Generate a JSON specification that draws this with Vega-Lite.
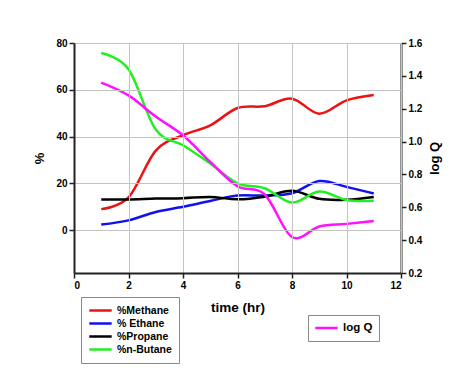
{
  "$schema": "https://vega.github.io/schema/vega-lite/v6.json",
  "width": 327,
  "height": 230,
  "autosize": {"type": "none"},
  "padding": {"left": 74, "top": 43, "right": 73, "bottom": 117},
  "background": "white",
  "config": {
    "font": "Liberation Sans",
    "view": {"stroke": "#777", "strokeWidth": 1},
    "axis": {
      "labelFont": "Liberation Sans",
      "labelFontWeight": "bold",
      "labelFontSize": 10,
      "labelColor": "#000",
      "titleFont": "Liberation Sans",
      "titleFontWeight": "bold",
      "titleColor": "#000",
      "domainColor": "#222",
      "domainWidth": 2,
      "tickColor": "#222",
      "tickWidth": 1.5,
      "tickSize": 5,
      "grid": true,
      "gridColor": "#c4c4c4",
      "gridWidth": 1,
      "gridOpacity": 1
    },
    "legend": {
      "labelFont": "Liberation Sans",
      "labelFontWeight": "bold",
      "labelFontSize": 10.5,
      "labelColor": "#000",
      "symbolType": "stroke",
      "symbolStrokeWidth": 2.5,
      "symbolSize": 500,
      "strokeColor": "#888",
      "padding": 7,
      "rowPadding": 0,
      "clipHeight": 13,
      "orient": "none"
    }
  },
  "datasets": {
    "gas": [
      {"t": 1, "series": "%Methane", "value": 9.0},
      {"t": 2, "series": "%Methane", "value": 14.0},
      {"t": 3, "series": "%Methane", "value": 34.0},
      {"t": 4, "series": "%Methane", "value": 40.6},
      {"t": 5, "series": "%Methane", "value": 44.8},
      {"t": 6, "series": "%Methane", "value": 52.2},
      {"t": 7, "series": "%Methane", "value": 53.0},
      {"t": 8, "series": "%Methane", "value": 56.2},
      {"t": 9, "series": "%Methane", "value": 49.8},
      {"t": 10, "series": "%Methane", "value": 55.5},
      {"t": 11, "series": "%Methane", "value": 57.8},
      {"t": 1, "series": "% Ethane", "value": 2.4},
      {"t": 2, "series": "% Ethane", "value": 4.2},
      {"t": 3, "series": "% Ethane", "value": 7.8},
      {"t": 4, "series": "% Ethane", "value": 10.0},
      {"t": 5, "series": "% Ethane", "value": 12.5},
      {"t": 6, "series": "% Ethane", "value": 14.8},
      {"t": 7, "series": "% Ethane", "value": 14.8},
      {"t": 8, "series": "% Ethane", "value": 15.8},
      {"t": 9, "series": "% Ethane", "value": 21.0},
      {"t": 10, "series": "% Ethane", "value": 18.5},
      {"t": 11, "series": "% Ethane", "value": 15.7},
      {"t": 1, "series": "%Propane", "value": 13.1},
      {"t": 2, "series": "%Propane", "value": 13.1},
      {"t": 3, "series": "%Propane", "value": 13.5},
      {"t": 4, "series": "%Propane", "value": 13.7},
      {"t": 5, "series": "%Propane", "value": 14.2},
      {"t": 6, "series": "%Propane", "value": 13.2},
      {"t": 7, "series": "%Propane", "value": 14.3},
      {"t": 8, "series": "%Propane", "value": 16.8},
      {"t": 9, "series": "%Propane", "value": 13.4},
      {"t": 10, "series": "%Propane", "value": 13.0},
      {"t": 11, "series": "%Propane", "value": 14.2},
      {"t": 1, "series": "%n-Butane", "value": 75.7},
      {"t": 2, "series": "%n-Butane", "value": 68.8},
      {"t": 3, "series": "%n-Butane", "value": 43.0},
      {"t": 4, "series": "%n-Butane", "value": 36.3},
      {"t": 5, "series": "%n-Butane", "value": 28.5},
      {"t": 6, "series": "%n-Butane", "value": 20.0},
      {"t": 7, "series": "%n-Butane", "value": 17.9},
      {"t": 8, "series": "%n-Butane", "value": 11.8},
      {"t": 9, "series": "%n-Butane", "value": 16.5},
      {"t": 10, "series": "%n-Butane", "value": 12.9},
      {"t": 11, "series": "%n-Butane", "value": 12.6}
    ],
    "flow": [
      {"t": 1, "series": "log Q", "logq": 1.359},
      {"t": 2, "series": "log Q", "logq": 1.281},
      {"t": 3, "series": "log Q", "logq": 1.152},
      {"t": 4, "series": "log Q", "logq": 1.038},
      {"t": 5, "series": "log Q", "logq": 0.876},
      {"t": 6, "series": "log Q", "logq": 0.728},
      {"t": 7, "series": "log Q", "logq": 0.678},
      {"t": 8, "series": "log Q", "logq": 0.419},
      {"t": 9, "series": "log Q", "logq": 0.483},
      {"t": 10, "series": "log Q", "logq": 0.499},
      {"t": 11, "series": "log Q", "logq": 0.517}
    ]
  },
  "layer": [
    {
      "data": {"name": "gas"},
      "mark": {"type": "line", "interpolate": "cardinal", "tension": 0, "strokeWidth": 2.5},
      "encoding": {
        "x": {
          "field": "t", "type": "quantitative",
          "scale": {"domain": [0, 12], "nice": false},
          "axis": {"title": "time (hr)", "titleFontSize": 13.5, "titlePadding": 10, "values": [0, 2, 4, 6, 8, 10, 12], "zindex": 1}
        },
        "y": {
          "field": "value", "type": "quantitative",
          "scale": {"domain": [-18.3, 80], "nice": false, "zero": false},
          "axis": {"title": "%", "orient": "left", "titleFontSize": 13, "values": [0, 20, 40, 60, 80], "titlePadding": 9, "zindex": 1}
        },
        "color": {
          "field": "series", "type": "nominal",
          "scale": {"domain": ["%Methane", "% Ethane", "%Propane", "%n-Butane"], "range": ["#ee1111", "#1111ee", "#000000", "#22ee22"]},
          "legend": {"title": null, "legendX": 7, "legendY": 254}
        }
      }
    },
    {
      "data": {"name": "flow"},
      "mark": {"type": "line", "interpolate": "cardinal", "tension": 0, "strokeWidth": 2.5},
      "encoding": {
        "x": {"field": "t", "type": "quantitative"},
        "y": {
          "field": "logq", "type": "quantitative",
          "scale": {"domain": [0.2, 1.6], "nice": false, "zero": false},
          "axis": {"title": "log Q", "orient": "right", "titleFontSize": 13, "titleAngle": 270, "values": [0.2, 0.4, 0.6, 0.8, 1.0, 1.2, 1.4, 1.6], "format": ".1f", "grid": false, "titlePadding": 20}
        },
        "stroke": {
          "field": "series", "type": "nominal",
          "scale": {"domain": ["log Q"], "range": ["#ff11ff"]},
          "legend": {"title": null, "legendX": 234, "legendY": 272, "labelFontSize": 11.5, "padding": 6, "clipHeight": 14}
        }
      }
    }
  ],
  "resolve": {"scale": {"y": "independent"}}
}
